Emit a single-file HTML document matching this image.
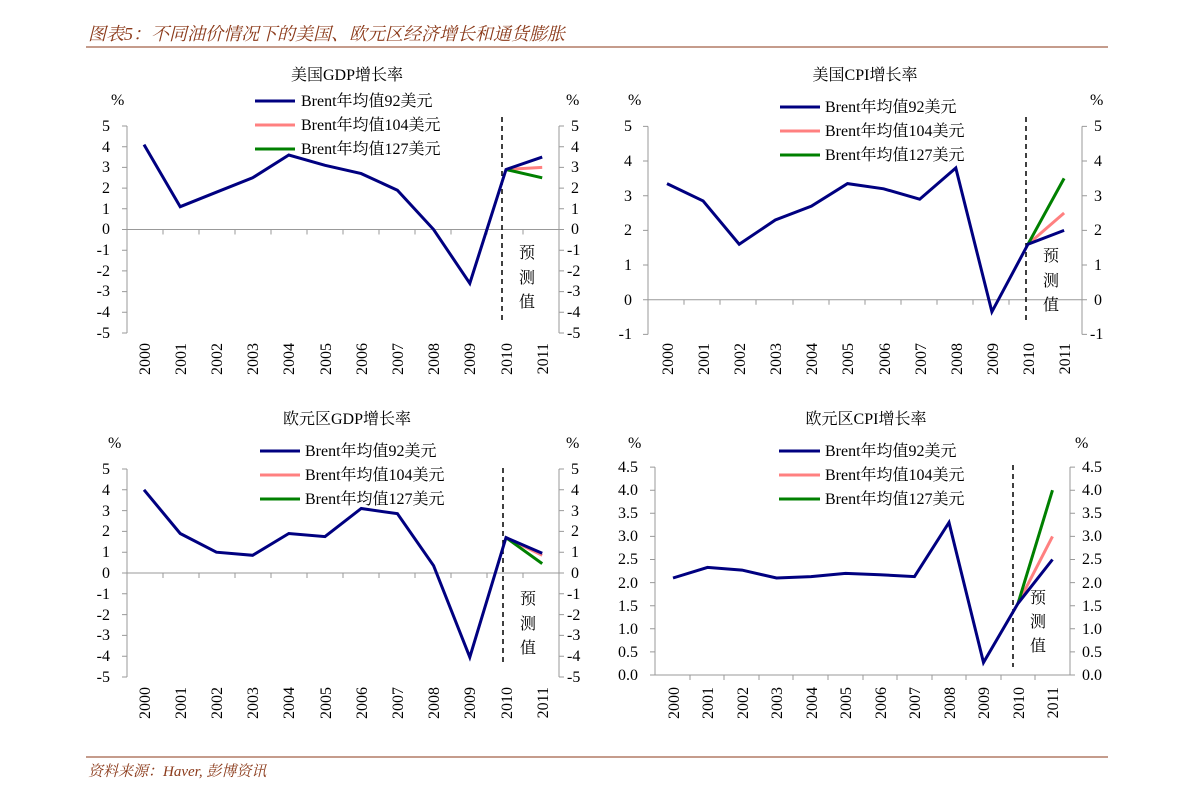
<!DOCTYPE html>
<html><head><meta charset="utf-8"><style>
body{margin:0;background:#fff;}
svg text{font-family:"Liberation Serif","Noto Serif CJK SC",serif;fill:#000;}
</style></head><body>
<svg width="1190" height="797" xmlns="http://www.w3.org/2000/svg">
<text x="88" y="40" font-size="18" font-style="italic" style="fill:#8B3A1A">图表5：不同油价情况下的美国、欧元区经济增长和通货膨胀</text>
<line x1="86" y1="47" x2="1108" y2="47" stroke="#8B3A1A" stroke-width="1"/>
<line x1="86" y1="757" x2="1108" y2="757" stroke="#8B3A1A" stroke-width="1"/>
<text x="88" y="776" font-size="15" font-style="italic" style="fill:#8B3A1A">资料来源：Haver, 彭博资讯</text>

<g font-size="16">
<!-- Chart 1 -->
<text x="347" y="80" text-anchor="middle">美国GDP增长率</text>
<text x="111" y="105">%</text><text x="566" y="105">%</text>
<g stroke="#999" stroke-width="1" fill="none">
<line x1="127" y1="126" x2="127" y2="333"/><line x1="559" y1="126" x2="559" y2="333"/>
<line x1="127" y1="229.5" x2="559" y2="229.5"/>
<path d="M122 126h5M122 146.7h5M122 167.4h5M122 188.1h5M122 208.8h5M122 229.5h5M122 250.2h5M122 270.9h5M122 291.6h5M122 312.3h5M122 333h5"/>
<path d="M559 126h5M559 146.7h5M559 167.4h5M559 188.1h5M559 208.8h5M559 229.5h5M559 250.2h5M559 270.9h5M559 291.6h5M559 312.3h5M559 333h5"/>
<path d="M163 229.5v5M199 229.5v5M235 229.5v5M271 229.5v5M307 229.5v5M343 229.5v5M379 229.5v5M415 229.5v5M451 229.5v5M487 229.5v5M523 229.5v5"/>
</g>
<g text-anchor="end"><text x="110" y="131">5</text><text x="110" y="152">4</text><text x="110" y="172">3</text><text x="110" y="193">2</text><text x="110" y="214">1</text><text x="110" y="234">0</text><text x="110" y="255">-1</text><text x="110" y="276">-2</text><text x="110" y="296">-3</text><text x="110" y="317">-4</text><text x="110" y="338">-5</text></g>
<g><text x="571" y="131">5</text><text x="571" y="152">4</text><text x="571" y="172">3</text><text x="571" y="193">2</text><text x="571" y="214">1</text><text x="571" y="234">0</text><text x="567" y="255">-1</text><text x="567" y="276">-2</text><text x="567" y="296">-3</text><text x="567" y="317">-4</text><text x="567" y="338">-5</text></g>
<g text-anchor="end">
<text transform="translate(150,343) rotate(-90)">2000</text><text transform="translate(186,343) rotate(-90)">2001</text><text transform="translate(222,343) rotate(-90)">2002</text><text transform="translate(258,343) rotate(-90)">2003</text><text transform="translate(294,343) rotate(-90)">2004</text><text transform="translate(331,343) rotate(-90)">2005</text><text transform="translate(367,343) rotate(-90)">2006</text><text transform="translate(403,343) rotate(-90)">2007</text><text transform="translate(439,343) rotate(-90)">2008</text><text transform="translate(475,343) rotate(-90)">2009</text><text transform="translate(512,343) rotate(-90)">2010</text><text transform="translate(548,343) rotate(-90)">2011</text>
</g>
<line x1="502" y1="117" x2="502" y2="320" stroke="#000" stroke-width="1.5" stroke-dasharray="5,4"/>
<text x="519" y="258">预</text><text x="519" y="283">测</text><text x="519" y="307">值</text>
<polyline fill="none" stroke="#FF8080" stroke-width="3" points="506,169.5 542.2,167.4"/>
<polyline fill="none" stroke="#008000" stroke-width="3" points="506,169.5 542.2,177.8"/>
<polyline fill="none" stroke="#000080" stroke-width="3" points="144,144.6 180.2,206.7 216.4,192.2 252.6,177.8 288.8,155 325,165.3 361.2,173.6 397.4,190.2 433.6,229.5 469.8,283.3 506,169.5 542.2,157.1"/>
<line x1="255" y1="101" x2="295" y2="101" stroke="#000080" stroke-width="3"/><text x="301" y="106">Brent年均值92美元</text>
<line x1="255" y1="125" x2="295" y2="125" stroke="#FF8080" stroke-width="3"/><text x="301" y="130">Brent年均值104美元</text>
<line x1="255" y1="149" x2="295" y2="149" stroke="#008000" stroke-width="3"/><text x="301" y="154">Brent年均值127美元</text>

<!-- Chart 2 -->
<text x="865" y="80" text-anchor="middle">美国CPI增长率</text>
<text x="628" y="105">%</text><text x="1090" y="105">%</text>
<g stroke="#999" stroke-width="1" fill="none">
<line x1="648" y1="126.4" x2="648" y2="334.4"/><line x1="1082" y1="126.4" x2="1082" y2="334.4"/>
<line x1="648" y1="299.7" x2="1082" y2="299.7"/>
<path d="M643 126.4h5M643 161h5M643 195.7h5M643 230.4h5M643 265h5M643 299.7h5M643 334.4h5"/>
<path d="M1082 126.4h5M1082 161h5M1082 195.7h5M1082 230.4h5M1082 265h5M1082 299.7h5M1082 334.4h5"/>
<path d="M684 299.7v5M720 299.7v5M756 299.7v5M793 299.7v5M829 299.7v5M865 299.7v5M901 299.7v5M937 299.7v5M973 299.7v5M1009 299.7v5M1046 299.7v5"/>
</g>
<g text-anchor="end"><text x="632" y="131">5</text><text x="632" y="166">4</text><text x="632" y="201">3</text><text x="632" y="235">2</text><text x="632" y="270">1</text><text x="632" y="305">0</text><text x="632" y="339">-1</text></g>
<g><text x="1094" y="131">5</text><text x="1094" y="166">4</text><text x="1094" y="201">3</text><text x="1094" y="235">2</text><text x="1094" y="270">1</text><text x="1094" y="305">0</text><text x="1090" y="339">-1</text></g>
<g text-anchor="end">
<text transform="translate(673,343) rotate(-90)">2000</text><text transform="translate(709,343) rotate(-90)">2001</text><text transform="translate(745,343) rotate(-90)">2002</text><text transform="translate(781,343) rotate(-90)">2003</text><text transform="translate(817,343) rotate(-90)">2004</text><text transform="translate(853,343) rotate(-90)">2005</text><text transform="translate(890,343) rotate(-90)">2006</text><text transform="translate(926,343) rotate(-90)">2007</text><text transform="translate(962,343) rotate(-90)">2008</text><text transform="translate(998,343) rotate(-90)">2009</text><text transform="translate(1034,343) rotate(-90)">2010</text><text transform="translate(1070,343) rotate(-90)">2011</text>
</g>
<line x1="1026" y1="117" x2="1026" y2="320" stroke="#000" stroke-width="1.5" stroke-dasharray="5,4"/>
<text x="1043" y="261">预</text><text x="1043" y="286">测</text><text x="1043" y="310">值</text>
<polyline fill="none" stroke="#FF8080" stroke-width="3" points="1028,244.2 1064.1,213"/>
<polyline fill="none" stroke="#008000" stroke-width="3" points="1028,244.2 1064.1,178.4"/>
<polyline fill="none" stroke="#000080" stroke-width="3" points="667,183.6 703.1,200.9 739.2,244.2 775.3,220 811.4,206.1 847.5,183.6 883.6,188.8 919.7,199.2 955.8,168 991.9,311.8 1028,244.2 1064.1,230.4"/>
<line x1="780" y1="107" x2="820" y2="107" stroke="#000080" stroke-width="3"/><text x="825" y="112">Brent年均值92美元</text>
<line x1="780" y1="131" x2="820" y2="131" stroke="#FF8080" stroke-width="3"/><text x="825" y="136">Brent年均值104美元</text>
<line x1="780" y1="155" x2="820" y2="155" stroke="#008000" stroke-width="3"/><text x="825" y="160">Brent年均值127美元</text>

<!-- Chart 3 -->
<text x="347" y="424" text-anchor="middle">欧元区GDP增长率</text>
<text x="108" y="448">%</text><text x="566" y="448">%</text>
<g stroke="#999" stroke-width="1" fill="none">
<line x1="127" y1="469" x2="127" y2="677"/><line x1="559" y1="469" x2="559" y2="677"/>
<line x1="127" y1="573" x2="559" y2="573"/>
<path d="M122 469h5M122 489.8h5M122 510.6h5M122 531.4h5M122 552.2h5M122 573h5M122 593.8h5M122 614.6h5M122 635.4h5M122 656.2h5M122 677h5"/>
<path d="M559 469h5M559 489.8h5M559 510.6h5M559 531.4h5M559 552.2h5M559 573h5M559 593.8h5M559 614.6h5M559 635.4h5M559 656.2h5M559 677h5"/>
<path d="M163 573v5M199 573v5M235 573v5M271 573v5M307 573v5M343 573v5M379 573v5M415 573v5M451 573v5M487 573v5M523 573v5"/>
</g>
<g text-anchor="end"><text x="110" y="474">5</text><text x="110" y="495">4</text><text x="110" y="516">3</text><text x="110" y="536">2</text><text x="110" y="557">1</text><text x="110" y="578">0</text><text x="110" y="599">-1</text><text x="110" y="620">-2</text><text x="110" y="640">-3</text><text x="110" y="661">-4</text><text x="110" y="682">-5</text></g>
<g><text x="571" y="474">5</text><text x="571" y="495">4</text><text x="571" y="516">3</text><text x="571" y="536">2</text><text x="571" y="557">1</text><text x="571" y="578">0</text><text x="567" y="599">-1</text><text x="567" y="620">-2</text><text x="567" y="640">-3</text><text x="567" y="661">-4</text><text x="567" y="682">-5</text></g>
<g text-anchor="end">
<text transform="translate(150,687) rotate(-90)">2000</text><text transform="translate(186,687) rotate(-90)">2001</text><text transform="translate(222,687) rotate(-90)">2002</text><text transform="translate(258,687) rotate(-90)">2003</text><text transform="translate(294,687) rotate(-90)">2004</text><text transform="translate(331,687) rotate(-90)">2005</text><text transform="translate(367,687) rotate(-90)">2006</text><text transform="translate(403,687) rotate(-90)">2007</text><text transform="translate(439,687) rotate(-90)">2008</text><text transform="translate(475,687) rotate(-90)">2009</text><text transform="translate(512,687) rotate(-90)">2010</text><text transform="translate(548,687) rotate(-90)">2011</text>
</g>
<line x1="503" y1="468" x2="503" y2="665" stroke="#000" stroke-width="1.5" stroke-dasharray="5,4"/>
<text x="520" y="604">预</text><text x="520" y="629">测</text><text x="520" y="653">值</text>
<polyline fill="none" stroke="#FF8080" stroke-width="3" points="506,537.6 542.2,555.3"/>
<polyline fill="none" stroke="#008000" stroke-width="3" points="506,537.6 542.2,563.6"/>
<polyline fill="none" stroke="#000080" stroke-width="3" points="144,489.8 180.2,533.5 216.4,552.2 252.6,555.3 288.8,533.5 325,536.6 361.2,508.5 397.4,513.7 433.6,565.7 469.8,657.2 506,537.6 542.2,553.2"/>
<line x1="260" y1="451" x2="300" y2="451" stroke="#000080" stroke-width="3"/><text x="305" y="456">Brent年均值92美元</text>
<line x1="260" y1="475" x2="300" y2="475" stroke="#FF8080" stroke-width="3"/><text x="305" y="480">Brent年均值104美元</text>
<line x1="260" y1="499" x2="300" y2="499" stroke="#008000" stroke-width="3"/><text x="305" y="504">Brent年均值127美元</text>

<!-- Chart 4 -->
<text x="866" y="424" text-anchor="middle">欧元区CPI增长率</text>
<text x="628" y="448">%</text><text x="1075" y="448">%</text>
<g stroke="#999" stroke-width="1" fill="none">
<line x1="655" y1="467.1" x2="655" y2="675"/><line x1="1070" y1="467.1" x2="1070" y2="675"/>
<line x1="655" y1="675" x2="1070" y2="675"/>
<path d="M650 467.1h5M650 490.2h5M650 513.3h5M650 536.4h5M650 559.5h5M650 582.6h5M650 605.7h5M650 628.8h5M650 651.9h5M650 675h5"/>
<path d="M1070 467.1h5M1070 490.2h5M1070 513.3h5M1070 536.4h5M1070 559.5h5M1070 582.6h5M1070 605.7h5M1070 628.8h5M1070 651.9h5M1070 675h5"/>
<path d="M690 675v5M724 675v5M759 675v5M793 675v5M828 675v5M863 675v5M897 675v5M932 675v5M966 675v5M1001 675v5M1035 675v5"/>
</g>
<g text-anchor="end"><text x="638" y="472">4.5</text><text x="638" y="495">4.0</text><text x="638" y="518">3.5</text><text x="638" y="541">3.0</text><text x="638" y="564">2.5</text><text x="638" y="588">2.0</text><text x="638" y="611">1.5</text><text x="638" y="634">1.0</text><text x="638" y="657">0.5</text><text x="638" y="680">0.0</text></g>
<g><text x="1082" y="472">4.5</text><text x="1082" y="495">4.0</text><text x="1082" y="518">3.5</text><text x="1082" y="541">3.0</text><text x="1082" y="564">2.5</text><text x="1082" y="588">2.0</text><text x="1082" y="611">1.5</text><text x="1082" y="634">1.0</text><text x="1082" y="657">0.5</text><text x="1082" y="680">0.0</text></g>
<g text-anchor="end">
<text transform="translate(679,687) rotate(-90)">2000</text><text transform="translate(713,687) rotate(-90)">2001</text><text transform="translate(748,687) rotate(-90)">2002</text><text transform="translate(782,687) rotate(-90)">2003</text><text transform="translate(817,687) rotate(-90)">2004</text><text transform="translate(851,687) rotate(-90)">2005</text><text transform="translate(886,687) rotate(-90)">2006</text><text transform="translate(920,687) rotate(-90)">2007</text><text transform="translate(955,687) rotate(-90)">2008</text><text transform="translate(989,687) rotate(-90)">2009</text><text transform="translate(1024,687) rotate(-90)">2010</text><text transform="translate(1058,687) rotate(-90)">2011</text>
</g>
<line x1="1013" y1="465" x2="1013" y2="667" stroke="#000" stroke-width="1.5" stroke-dasharray="5,4"/>
<text x="1030" y="603">预</text><text x="1030" y="627">测</text><text x="1030" y="651">值</text>
<polyline fill="none" stroke="#FF8080" stroke-width="3" points="1018,603.4 1052.5,536.4"/>
<polyline fill="none" stroke="#008000" stroke-width="3" points="1018,603.4 1052.5,490.2"/>
<polyline fill="none" stroke="#000080" stroke-width="3" points="673,578 707.5,567.4 742,570.1 776.5,578 811,576.6 845.5,573.4 880,574.7 914.5,576.6 949,522.5 983.5,662.5 1018,603.4 1052.5,559.5"/>
<line x1="779" y1="451" x2="820" y2="451" stroke="#000080" stroke-width="3"/><text x="825" y="456">Brent年均值92美元</text>
<line x1="779" y1="475" x2="820" y2="475" stroke="#FF8080" stroke-width="3"/><text x="825" y="480">Brent年均值104美元</text>
<line x1="779" y1="499" x2="820" y2="499" stroke="#008000" stroke-width="3"/><text x="825" y="504">Brent年均值127美元</text>
</g>
</svg>
</body></html>
